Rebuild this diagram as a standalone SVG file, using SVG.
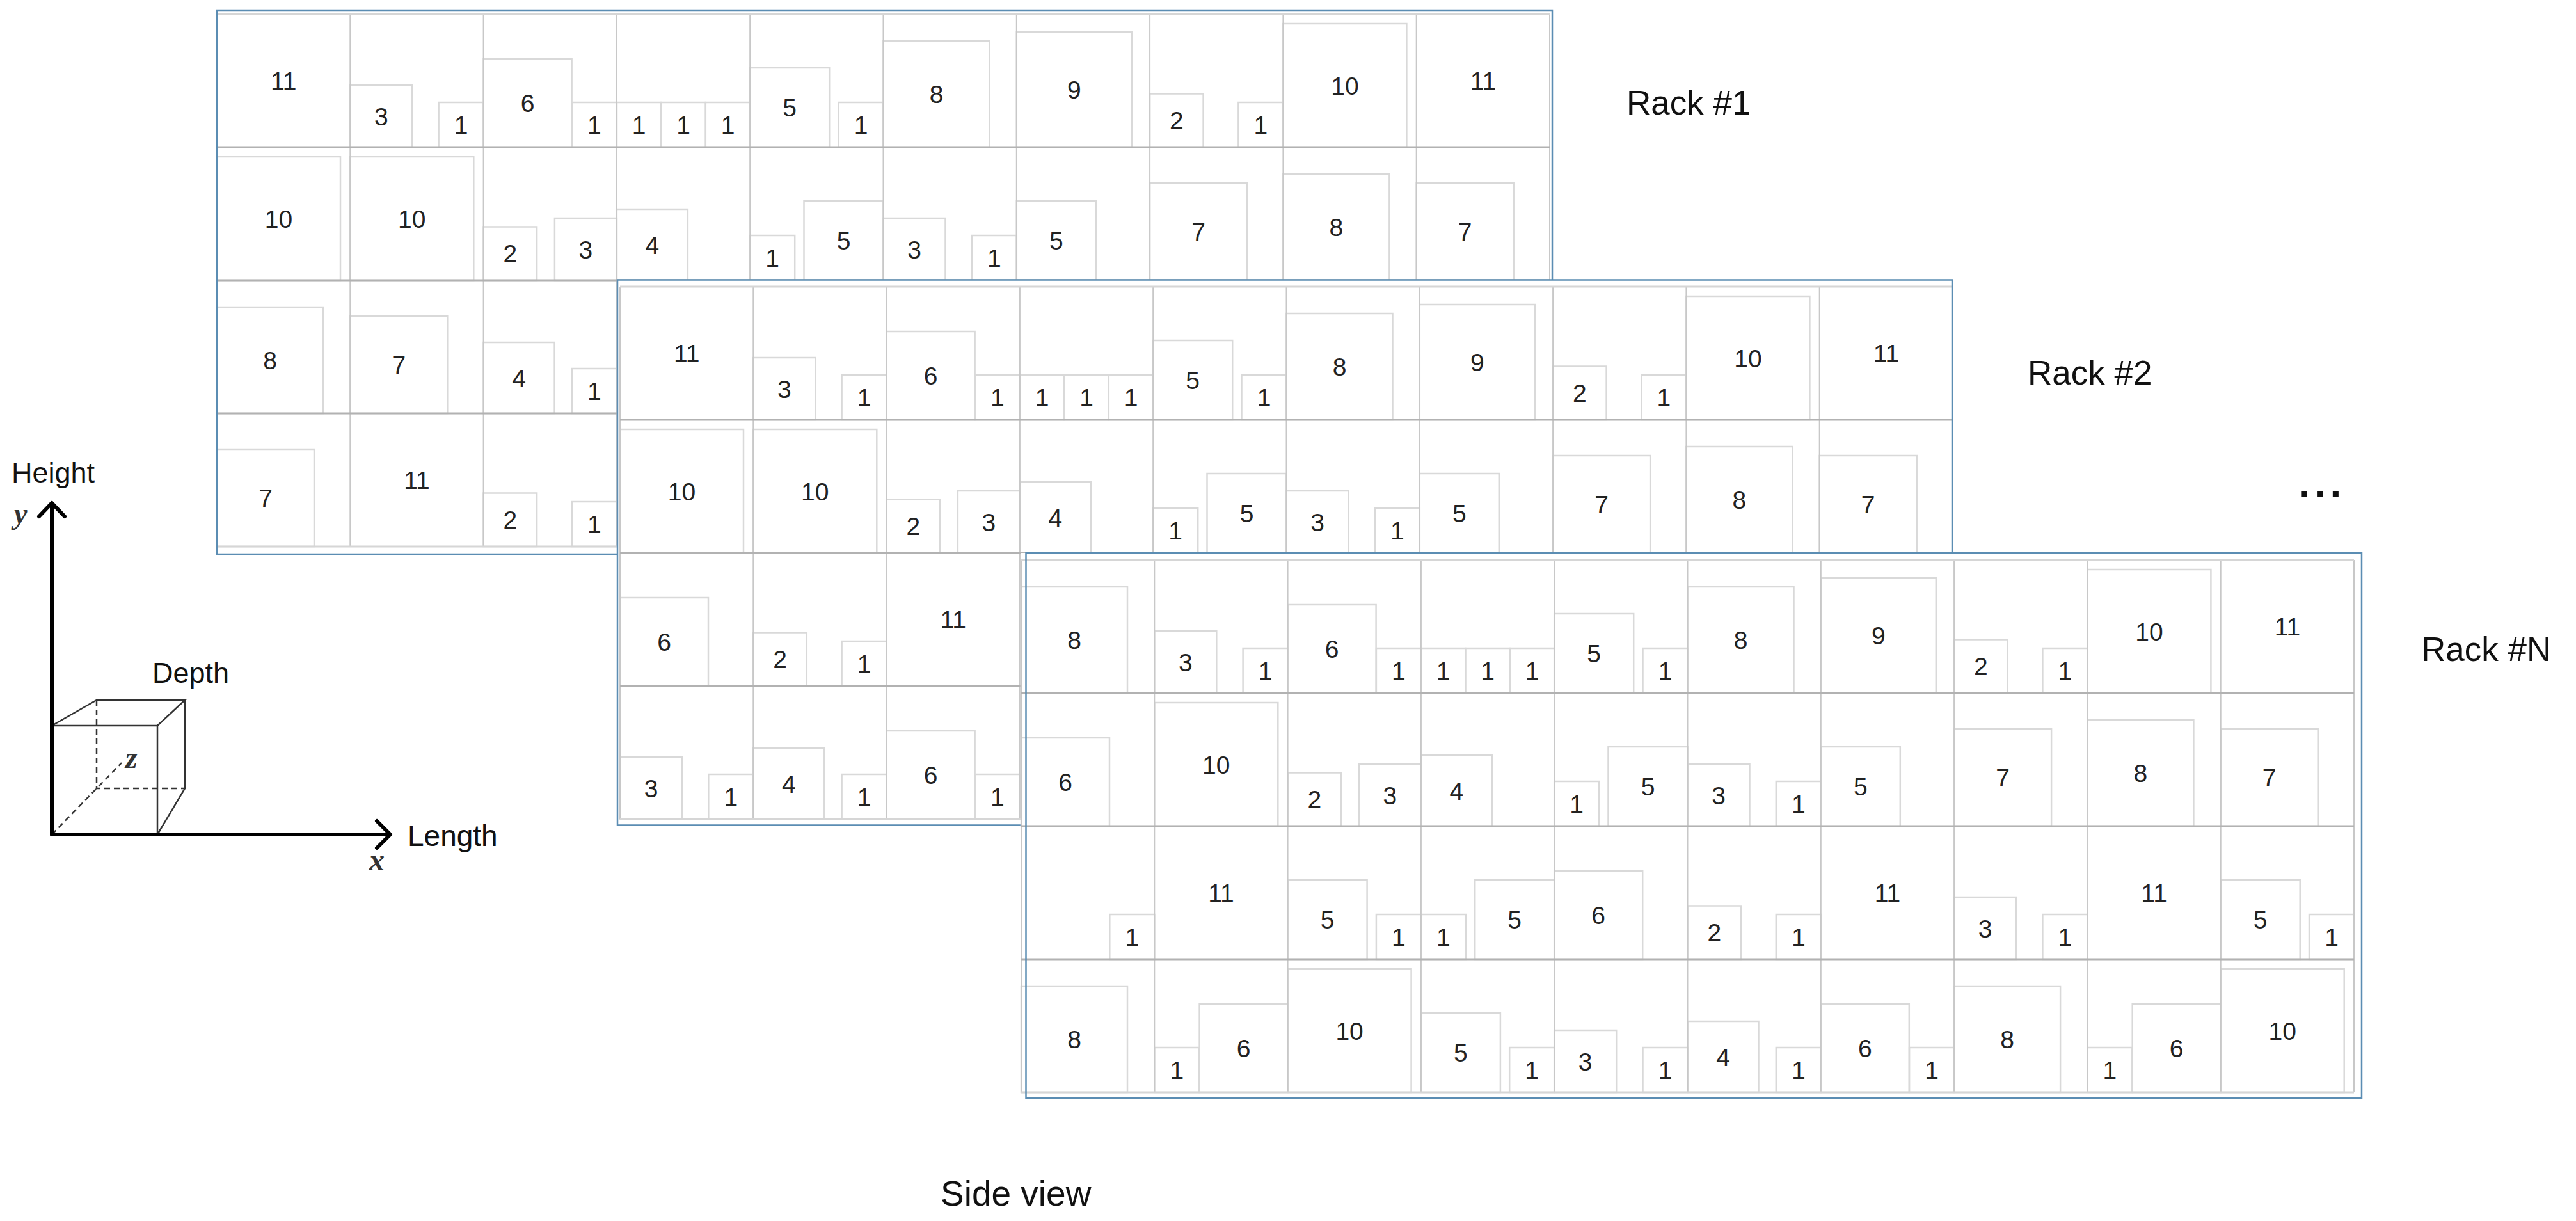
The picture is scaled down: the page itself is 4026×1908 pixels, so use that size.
<svg xmlns="http://www.w3.org/2000/svg" width="4026" height="1908" viewBox="0 0 4026 1908">
<style>
.bx rect{fill:none;stroke:#d9d9d9;stroke-width:2.5}
.cl{fill:none;stroke:#c8c8c8;stroke-width:2}
.rl{fill:none;stroke:#b2b2b2;stroke-width:3}
.fr{fill:none;stroke:#d6d6d6;stroke-width:3}
.bd{fill:none;stroke:#5b8db3;stroke-width:2.5}
.bg{fill:#fff}
.n text{font-family:"Liberation Sans",Arial,sans-serif;font-size:39px;fill:#222;text-anchor:middle}
.lb{font-family:"Liberation Sans",Arial,sans-serif;font-size:53px;fill:#111}
.ax{stroke:#000;stroke-width:6;fill:none;stroke-linecap:round;stroke-linejoin:round}
.cube{stroke:#333;stroke-width:2.5;fill:none}
.dash{stroke-dasharray:9 6}
.it{font-family:"Liberation Serif","Times New Roman",serif;font-style:italic;font-weight:bold;fill:#333}
</style>
<rect width="4026" height="1908" fill="#fff"/>

<!-- Rack #1 -->
<g id="rack1" transform="translate(339,22)">
 <g class="bx">
  <rect x="208.3" y="111" width="97" height="97"/>
  <rect x="346.6" y="138" width="70" height="70"/>
  <rect x="416.6" y="70" width="138" height="138"/>
  <rect x="554.9" y="138" width="70" height="70"/>
  <rect x="624.9" y="138" width="69.4" height="70"/>
  <rect x="694.3" y="138" width="69.5" height="70"/>
  <rect x="763.8" y="138" width="69.4" height="70"/>
  <rect x="833.2" y="84" width="124" height="124"/>
  <rect x="971.5" y="138" width="70" height="70"/>
  <rect x="1041.5" y="42" width="166" height="166"/>
  <rect x="1249.8" y="28" width="180" height="180"/>
  <rect x="1458.1" y="124.5" width="83.5" height="83.5"/>
  <rect x="1596.4" y="138" width="70" height="70"/>
  <rect x="1666.4" y="15" width="193" height="193"/>
  <rect x="0" y="223" width="193" height="193"/>
  <rect x="208.3" y="223" width="193" height="193"/>
  <rect x="416.6" y="332.5" width="83.5" height="83.5"/>
  <rect x="527.9" y="319" width="97" height="97"/>
  <rect x="624.9" y="305" width="111" height="111"/>
  <rect x="833.2" y="346" width="70" height="70"/>
  <rect x="917.5" y="292" width="124" height="124"/>
  <rect x="1041.5" y="319" width="97" height="97"/>
  <rect x="1179.8" y="346" width="70" height="70"/>
  <rect x="1249.8" y="292" width="124" height="124"/>
  <rect x="1458.1" y="264" width="152" height="152"/>
  <rect x="1666.4" y="250" width="166" height="166"/>
  <rect x="1874.7" y="264" width="152" height="152"/>
  <rect x="0" y="458" width="166" height="166"/>
  <rect x="208.3" y="472" width="152" height="152"/>
  <rect x="416.6" y="513" width="111" height="111"/>
  <rect x="554.9" y="554" width="70" height="70"/>
  <rect x="0" y="680" width="152" height="152"/>
  <rect x="416.6" y="748.5" width="83.5" height="83.5"/>
  <rect x="554.9" y="762" width="70" height="70"/>
 </g>
 <path class="cl" d="M0 0V832M208.3 0V832M416.6 0V832M624.9 0V832M833.2 0V832M1041.5 0V832M1249.8 0V832M1458.1 0V832M1666.4 0V832M1874.7 0V832M2083 0V832"/>
 <path class="rl" d="M0 208H2083M0 416H2083M0 624H2083"/>
 <path class="fr" d="M0 0H2083M0 832H2083"/>
 <g class="n">
  <text x="104.2" y="118">11</text>
  <text x="256.8" y="173.5">3</text>
  <text x="381.6" y="187">1</text>
  <text x="485.6" y="153">6</text>
  <text x="589.9" y="187">1</text>
  <text x="659.6" y="187">1</text>
  <text x="729" y="187">1</text>
  <text x="798.5" y="187">1</text>
  <text x="895.2" y="160">5</text>
  <text x="1006.5" y="187">1</text>
  <text x="1124.5" y="139">8</text>
  <text x="1339.8" y="132">9</text>
  <text x="1499.9" y="180.3">2</text>
  <text x="1631.4" y="187">1</text>
  <text x="1762.9" y="125.5">10</text>
  <text x="1978.9" y="118">11</text>
  <text x="96.5" y="333.5">10</text>
  <text x="304.8" y="333.5">10</text>
  <text x="458.4" y="388.3">2</text>
  <text x="576.4" y="381.5">3</text>
  <text x="680.4" y="374.5">4</text>
  <text x="868.2" y="395">1</text>
  <text x="979.5" y="368">5</text>
  <text x="1090" y="381.5">3</text>
  <text x="1214.8" y="395">1</text>
  <text x="1311.8" y="368">5</text>
  <text x="1534.1" y="354">7</text>
  <text x="1749.4" y="347">8</text>
  <text x="1950.7" y="354">7</text>
  <text x="83" y="555">8</text>
  <text x="284.3" y="562">7</text>
  <text x="472.1" y="582.5">4</text>
  <text x="589.9" y="603">1</text>
  <text x="76" y="770">7</text>
  <text x="312.5" y="742">11</text>
  <text x="458.4" y="804.3">2</text>
  <text x="589.9" y="811">1</text>
 </g>
 <rect class="bd" x="0" y="-6" width="2087" height="850"/>
</g>

<!-- Rack #2 -->
<g id="rack2" transform="translate(969,448)">
 <rect class="bg" x="-4" y="-10.5" width="2086" height="852"/>
 <g class="bx">
  <rect x="208.3" y="111" width="97" height="97"/>
  <rect x="346.6" y="138" width="70" height="70"/>
  <rect x="416.6" y="70" width="138" height="138"/>
  <rect x="554.9" y="138" width="70" height="70"/>
  <rect x="624.9" y="138" width="69.4" height="70"/>
  <rect x="694.3" y="138" width="69.5" height="70"/>
  <rect x="763.8" y="138" width="69.4" height="70"/>
  <rect x="833.2" y="84" width="124" height="124"/>
  <rect x="971.5" y="138" width="70" height="70"/>
  <rect x="1041.5" y="42" width="166" height="166"/>
  <rect x="1249.8" y="28" width="180" height="180"/>
  <rect x="1458.1" y="124.5" width="83.5" height="83.5"/>
  <rect x="1596.4" y="138" width="70" height="70"/>
  <rect x="1666.4" y="15" width="193" height="193"/>
  <rect x="0" y="223" width="193" height="193"/>
  <rect x="208.3" y="223" width="193" height="193"/>
  <rect x="416.6" y="332.5" width="83.5" height="83.5"/>
  <rect x="527.9" y="319" width="97" height="97"/>
  <rect x="624.9" y="305" width="111" height="111"/>
  <rect x="833.2" y="346" width="70" height="70"/>
  <rect x="917.5" y="292" width="124" height="124"/>
  <rect x="1041.5" y="319" width="97" height="97"/>
  <rect x="1179.8" y="346" width="70" height="70"/>
  <rect x="1249.8" y="292" width="124" height="124"/>
  <rect x="1458.1" y="264" width="152" height="152"/>
  <rect x="1666.4" y="250" width="166" height="166"/>
  <rect x="1874.7" y="264" width="152" height="152"/>
  <rect x="0" y="486" width="138" height="138"/>
  <rect x="208.3" y="540.5" width="83.5" height="83.5"/>
  <rect x="346.6" y="554" width="70" height="70"/>
  <rect x="0" y="735" width="97" height="97"/>
  <rect x="138.3" y="762" width="70" height="70"/>
  <rect x="208.3" y="721" width="111" height="111"/>
  <rect x="346.6" y="762" width="70" height="70"/>
  <rect x="416.6" y="694" width="138" height="138"/>
  <rect x="554.9" y="762" width="70" height="70"/>
 </g>
 <path class="cl" d="M0 0V832M208.3 0V832M416.6 0V832M624.9 0V832M833.2 0V832M1041.5 0V832M1249.8 0V832M1458.1 0V832M1666.4 0V832M1874.7 0V832M2083 0V832"/>
 <path class="rl" d="M0 208H2083M0 416H2083M0 624H2083"/>
 <path class="fr" d="M0 0H2083M0 832H2083"/>
 <g class="n">
  <text x="104.2" y="118">11</text>
  <text x="256.8" y="173.5">3</text>
  <text x="381.6" y="187">1</text>
  <text x="485.6" y="153">6</text>
  <text x="589.9" y="187">1</text>
  <text x="659.6" y="187">1</text>
  <text x="729" y="187">1</text>
  <text x="798.5" y="187">1</text>
  <text x="895.2" y="160">5</text>
  <text x="1006.5" y="187">1</text>
  <text x="1124.5" y="139">8</text>
  <text x="1339.8" y="132">9</text>
  <text x="1499.9" y="180.3">2</text>
  <text x="1631.4" y="187">1</text>
  <text x="1762.9" y="125.5">10</text>
  <text x="1978.9" y="118">11</text>
  <text x="96.5" y="333.5">10</text>
  <text x="304.8" y="333.5">10</text>
  <text x="458.4" y="388.3">2</text>
  <text x="576.4" y="381.5">3</text>
  <text x="680.4" y="374.5">4</text>
  <text x="868.2" y="395">1</text>
  <text x="979.5" y="368">5</text>
  <text x="1090" y="381.5">3</text>
  <text x="1214.8" y="395">1</text>
  <text x="1311.8" y="368">5</text>
  <text x="1534.1" y="354">7</text>
  <text x="1749.4" y="347">8</text>
  <text x="1950.7" y="354">7</text>
  <text x="69" y="569">6</text>
  <text x="250.1" y="596.3">2</text>
  <text x="381.6" y="603">1</text>
  <text x="520.8" y="534">11</text>
  <text x="48.5" y="797.5">3</text>
  <text x="173.3" y="811">1</text>
  <text x="263.8" y="790.5">4</text>
  <text x="381.6" y="811">1</text>
  <text x="485.6" y="777">6</text>
  <text x="589.9" y="811">1</text>
 </g>
 <rect class="bd" x="-4" y="-10.5" width="2086" height="852"/>
</g>

<!-- Rack #N -->
<g id="rackN" transform="translate(1596,875)">
 <rect class="bg" x="0" y="-11" width="2095" height="852"/>
 <g class="bx">
  <rect x="0" y="42" width="166" height="166"/>
  <rect x="208.3" y="111" width="97" height="97"/>
  <rect x="346.6" y="138" width="70" height="70"/>
  <rect x="416.6" y="70" width="138" height="138"/>
  <rect x="554.9" y="138" width="70" height="70"/>
  <rect x="624.9" y="138" width="69.4" height="70"/>
  <rect x="694.3" y="138" width="69.5" height="70"/>
  <rect x="763.8" y="138" width="69.4" height="70"/>
  <rect x="833.2" y="84" width="124" height="124"/>
  <rect x="971.5" y="138" width="70" height="70"/>
  <rect x="1041.5" y="42" width="166" height="166"/>
  <rect x="1249.8" y="28" width="180" height="180"/>
  <rect x="1458.1" y="124.5" width="83.5" height="83.5"/>
  <rect x="1596.4" y="138" width="70" height="70"/>
  <rect x="1666.4" y="15" width="193" height="193"/>
  <rect x="0" y="278" width="138" height="138"/>
  <rect x="208.3" y="223" width="193" height="193"/>
  <rect x="416.6" y="332.5" width="83.5" height="83.5"/>
  <rect x="527.9" y="319" width="97" height="97"/>
  <rect x="624.9" y="305" width="111" height="111"/>
  <rect x="833.2" y="346" width="70" height="70"/>
  <rect x="917.5" y="292" width="124" height="124"/>
  <rect x="1041.5" y="319" width="97" height="97"/>
  <rect x="1179.8" y="346" width="70" height="70"/>
  <rect x="1249.8" y="292" width="124" height="124"/>
  <rect x="1458.1" y="264" width="152" height="152"/>
  <rect x="1666.4" y="250" width="166" height="166"/>
  <rect x="1874.7" y="264" width="152" height="152"/>
  <rect x="138.3" y="554" width="70" height="70"/>
  <rect x="416.6" y="500" width="124" height="124"/>
  <rect x="554.9" y="554" width="70" height="70"/>
  <rect x="624.9" y="554" width="70" height="70"/>
  <rect x="709.2" y="500" width="124" height="124"/>
  <rect x="833.2" y="486" width="138" height="138"/>
  <rect x="1041.5" y="540.5" width="83.5" height="83.5"/>
  <rect x="1179.8" y="554" width="70" height="70"/>
  <rect x="1458.1" y="527" width="97" height="97"/>
  <rect x="1596.4" y="554" width="70" height="70"/>
  <rect x="1874.7" y="500" width="124" height="124"/>
  <rect x="2013" y="554" width="70" height="70"/>
  <rect x="0" y="666" width="166" height="166"/>
  <rect x="208.3" y="762" width="70" height="70"/>
  <rect x="278.6" y="694" width="138" height="138"/>
  <rect x="416.6" y="639" width="193" height="193"/>
  <rect x="624.9" y="708" width="124" height="124"/>
  <rect x="763.2" y="762" width="70" height="70"/>
  <rect x="833.2" y="735" width="97" height="97"/>
  <rect x="971.5" y="762" width="70" height="70"/>
  <rect x="1041.5" y="721" width="111" height="111"/>
  <rect x="1179.8" y="762" width="70" height="70"/>
  <rect x="1249.8" y="694" width="138" height="138"/>
  <rect x="1388.1" y="762" width="70" height="70"/>
  <rect x="1458.1" y="666" width="166" height="166"/>
  <rect x="1666.4" y="762" width="70" height="70"/>
  <rect x="1736.7" y="694" width="138" height="138"/>
  <rect x="1874.7" y="639" width="193" height="193"/>
 </g>
 <path class="cl" d="M0 0V832M208.3 0V832M416.6 0V832M624.9 0V832M833.2 0V832M1041.5 0V832M1249.8 0V832M1458.1 0V832M1666.4 0V832M1874.7 0V832M2083 0V832"/>
 <path class="rl" d="M0 208H2083M0 416H2083M0 624H2083"/>
 <path class="fr" d="M0 0H2083M0 832H2083"/>
 <g class="n">
  <text x="83" y="139">8</text>
  <text x="256.8" y="173.5">3</text>
  <text x="381.6" y="187">1</text>
  <text x="485.6" y="153">6</text>
  <text x="589.9" y="187">1</text>
  <text x="659.6" y="187">1</text>
  <text x="729" y="187">1</text>
  <text x="798.5" y="187">1</text>
  <text x="895.2" y="160">5</text>
  <text x="1006.5" y="187">1</text>
  <text x="1124.5" y="139">8</text>
  <text x="1339.8" y="132">9</text>
  <text x="1499.9" y="180.3">2</text>
  <text x="1631.4" y="187">1</text>
  <text x="1762.9" y="125.5">10</text>
  <text x="1978.9" y="118">11</text>
  <text x="69" y="361">6</text>
  <text x="304.8" y="333.5">10</text>
  <text x="458.4" y="388.3">2</text>
  <text x="576.4" y="381.5">3</text>
  <text x="680.4" y="374.5">4</text>
  <text x="868.2" y="395">1</text>
  <text x="979.5" y="368">5</text>
  <text x="1090" y="381.5">3</text>
  <text x="1214.8" y="395">1</text>
  <text x="1311.8" y="368">5</text>
  <text x="1534.1" y="354">7</text>
  <text x="1749.4" y="347">8</text>
  <text x="1950.7" y="354">7</text>
  <text x="173.3" y="603">1</text>
  <text x="312.5" y="534">11</text>
  <text x="478.6" y="576">5</text>
  <text x="589.9" y="603">1</text>
  <text x="659.9" y="603">1</text>
  <text x="771.2" y="576">5</text>
  <text x="902.2" y="569">6</text>
  <text x="1083.3" y="596.3">2</text>
  <text x="1214.8" y="603">1</text>
  <text x="1354" y="534">11</text>
  <text x="1506.6" y="589.5">3</text>
  <text x="1631.4" y="603">1</text>
  <text x="1770.6" y="534">11</text>
  <text x="1936.7" y="576">5</text>
  <text x="2048" y="603">1</text>
  <text x="83" y="763">8</text>
  <text x="243.3" y="811">1</text>
  <text x="347.6" y="777">6</text>
  <text x="513.1" y="749.5">10</text>
  <text x="686.9" y="784">5</text>
  <text x="798.2" y="811">1</text>
  <text x="881.7" y="797.5">3</text>
  <text x="1006.5" y="811">1</text>
  <text x="1097" y="790.5">4</text>
  <text x="1214.8" y="811">1</text>
  <text x="1318.8" y="777">6</text>
  <text x="1423.1" y="811">1</text>
  <text x="1541.1" y="763">8</text>
  <text x="1701.4" y="811">1</text>
  <text x="1805.7" y="777">6</text>
  <text x="1971.2" y="749.5">10</text>
 </g>
 <rect class="bd" x="7.5" y="-11" width="2087.5" height="852"/>
</g>

<!-- Rack labels -->
<text class="lb" x="2542" y="179">Rack #1</text>
<text class="lb" x="3169" y="601">Rack #2</text>
<text class="lb" x="3592" y="777" style="font-weight:bold;font-size:64px;letter-spacing:7px">...</text>
<text class="lb" x="3784" y="1033">Rack #N</text>
<text class="lb" x="1470" y="1884" style="font-size:55px">Side view</text>

<!-- Axes and cube -->
<g id="axes">
 <path class="cube" d="M81 1134H246V1304M81 1134L151 1094H289L246 1134M289 1094V1232L246 1304"/>
 <path class="cube dash" d="M151 1094V1232H289M81 1304L190 1192"/>
 <path class="ax" d="M81 1304V787M61 807L81 786L101 807"/>
 <path class="ax" d="M81 1304H609M589 1283L610 1304L589 1325"/>
 <text class="lb" x="18" y="754" style="font-size:45px">Height</text>
 <text class="it" x="22" y="818" style="font-size:46px">y</text>
 <text class="lb" x="238" y="1067" style="font-size:45px">Depth</text>
 <text class="it" x="196" y="1200" style="font-size:48px">z</text>
 <text class="lb" x="637" y="1322" style="font-size:46px">Length</text>
 <text class="it" x="577" y="1360" style="font-size:48px">x</text>
</g>
</svg>
